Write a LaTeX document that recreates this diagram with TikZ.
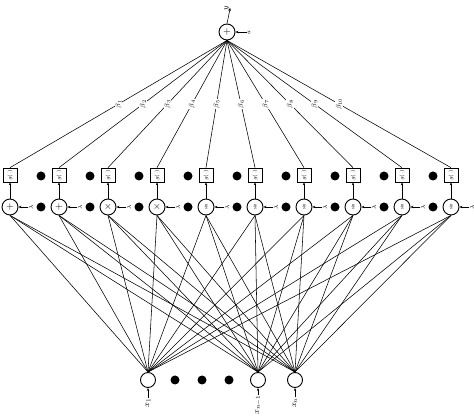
\documentclass[tikz,border=0pt]{standalone}
\usepackage{fontspec}
\setmainfont{Liberation Serif}
\usetikzlibrary{arrows.meta}
\begin{document}
\begin{tikzpicture}[x=1pt,y=-1pt,
  neuron/.style={circle,draw,line width=0.9pt,minimum size=16pt,inner sep=0pt},
  inneuron/.style={circle,draw,line width=0.9pt,minimum size=15pt,inner sep=0pt},
  gbox/.style={draw,line width=0.7pt,minimum size=14pt,inner sep=0pt},
  bigdot/.style={circle,fill=black,minimum size=9pt,inner sep=0pt},
  arr/.style={-{Stealth[length=3pt,width=2.4pt]},line width=0.55pt},
  link/.style={line width=0.55pt},
  lab/.style={rotate=90,font=\fontsize{6.5}{6.5}\selectfont,inner sep=0.6pt},
  blab/.style={rotate=90,font=\fontsize{7}{7}\selectfont,inner sep=0.8pt,fill=white},
  xlab/.style={rotate=90,font=\fontsize{8.5}{8.5}\selectfont,inner sep=0.5pt}]
\useasboundingbox (0,0) rectangle (474,419);

% output node
\node[neuron] (top) at (227,32) {\fontsize{10}{10}\selectfont$+$};
\node[xlab] (ylab) at (227,8) {$y$};
\draw[arr] (top.north) -- (ylab.south);
\node[lab] (alab) at (249,32) {$a$};
\draw[arr] (alab.north) -- (top.east);

% hidden neurons
\foreach \i/\sym in {1/{\fontsize{10}{10}\selectfont$+$},2/{\fontsize{10}{10}\selectfont$+$},3/{\fontsize{10}{10}\selectfont$\times$},4/{\fontsize{10}{10}\selectfont$\times$},5/{\rotatebox{90}{\fontsize{4.5}{4.5}\selectfont sin}},6/{\rotatebox{90}{\fontsize{4.5}{4.5}\selectfont sin}},7/{\rotatebox{90}{\fontsize{4.5}{4.5}\selectfont sin}},8/{\rotatebox{90}{\fontsize{4.5}{4.5}\selectfont sin}},9/{\rotatebox{90}{\fontsize{4.5}{4.5}\selectfont sin}},10/{\rotatebox{90}{\fontsize{4.5}{4.5}\selectfont sin}}}{
  \pgfmathsetmacro{\xx}{10+49*(\i-1)}
  \node[gbox] (b\i) at (\xx,175) {\rotatebox{90}{\fontsize{5}{5}\selectfont $g(.)$}};
  \node[neuron] (c\i) at (\xx,207) {\sym};
  \draw[arr] (c\i.north) -- (b\i.south);
  \node[lab] (l\i) at (\xx+21,207) {$\lambda$};
  \draw[arr] (l\i.north) -- (c\i.east);
  \draw[link] (top.south) -- node[pos=0.5,blab] {$\beta_{\i}$} (b\i.north);
}
\foreach \i in {2,...,10}{
  \pgfmathsetmacro{\dx}{10+49*(\i-1)-18}
  \node[bigdot] (du\i) at (\dx,176) {};
  \node[bigdot] (dl\i) at (\dx,207) {};
}

% inputs
\node[inneuron] (in1) at (148,380) {};
\node[inneuron] (in2) at (258,380) {};
\node[inneuron] (in3) at (295,380) {};
\node[bigdot] (id1) at (175,380) {};
\node[bigdot] (id2) at (202,380) {};
\node[bigdot] (id3) at (229,380) {};
\node[xlab] (x1) at (148,403) {$x_1$};
\node[xlab] (x2) at (258,405) {$x_{n-1}$};
\node[xlab] (x3) at (295,403) {$x_n$};
\draw[arr] (x1.east) -- (in1.south);
\draw[arr] (x2.east) -- (in2.south);
\draw[arr] (x3.east) -- (in3.south);

\foreach \j in {in1,in2,in3}{
  \foreach \i in {1,...,10}{
    \draw[link] (\j.north) -- (c\i.south);
  }
}
\end{tikzpicture}
\end{document}
